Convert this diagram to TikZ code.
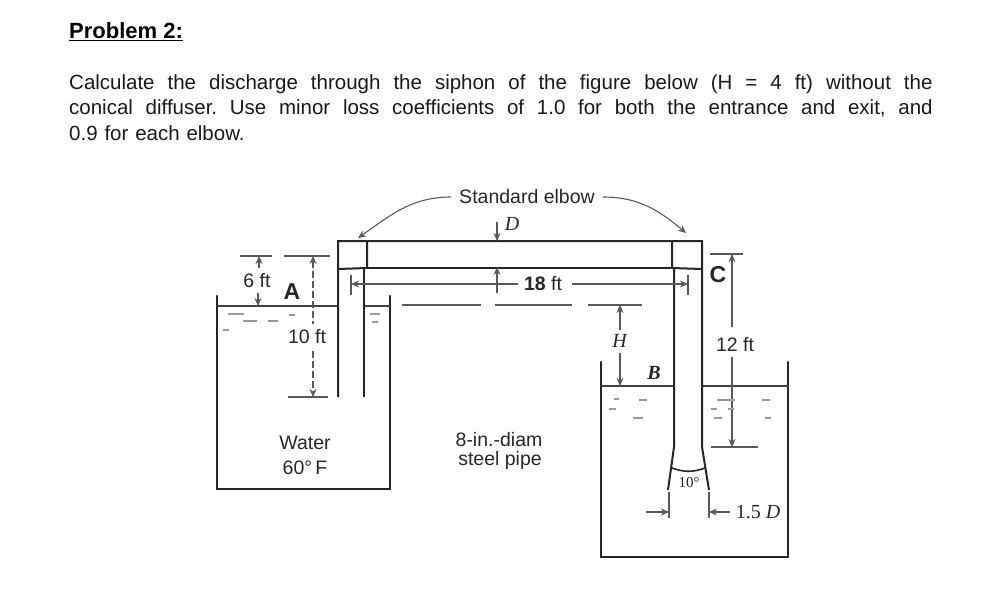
\documentclass[tikz,border=0pt]{standalone}
\usepackage{fontspec}
\setmainfont{Liberation Sans}
\newfontfamily\bookfont{Liberation Serif}
\usetikzlibrary{arrows.meta}
\pgfdeclarelayer{edgelayer}
\pgfdeclarelayer{nodelayer}
\pgfsetlayers{edgelayer,nodelayer,main}
\tikzstyle{none} = []
\tikzstyle{wall} = [line width=2.3pt, line cap=round, black!85]
\tikzstyle{pipe} = [line width=2pt, black!85]
\tikzstyle{level} = [line width=1.5pt, black!75]
\tikzstyle{dim} = [line width=1.1pt, black!65, >={Stealth[length=8pt, width=7pt]}]
\tikzstyle{dimbroken} = [dim, dash pattern=on 7pt off 3pt]
\tikzstyle{ripple} = [fill=black!40, inner sep=0pt, minimum height=1.2pt]
\tikzstyle{label} = [font=\fontsize{19.5}{22}\selectfont, black!85, inner sep=0pt]
\tikzstyle{serif} = [font=\bookfont\fontsize{20}{22}\selectfont, black!85, inner sep=0pt]
\tikzstyle{heavy} = [font=\fontsize{23}{25}\selectfont\bfseries, black!85, inner sep=0pt]

\begin{document}
\begin{tikzpicture}[x=1pt, y=-1pt]
	\coordinate (corner0) at (0, 0);
	\coordinate (corner1) at (999, 602);
	\useasboundingbox (corner0) rectangle (corner1);
	\begin{pgfonlayer}{nodelayer}
		\node [style=none, anchor=west, inner sep=0pt, font=\fontsize{22}{26}\selectfont\bfseries] (100) at (69, 32) {\underline{Problem 2:}};
		\node [style=none, anchor=north west, inner sep=0pt, text width=900pt, align=left, font=\fontsize{20.5}{25.6}\selectfont, black!90] (101) at (69, 74) {{\spaceskip=13pt\xspaceskip=13pt Calculate the discharge through the siphon of the figure below (H = 4 ft) without the}\\{\spaceskip=12.73pt\xspaceskip=12.73pt conical diffuser. Use minor loss coefficients of 1.0 for both the entrance and exit, and}\\0.9 for each elbow.};
		% tanks
		\node [style=none] (0) at (217, 296) {};
		\node [style=none] (1) at (217, 489) {};
		\node [style=none] (2) at (390, 489) {};
		\node [style=none] (3) at (390, 296) {};
		\node [style=none] (4) at (601, 362) {};
		\node [style=none] (5) at (601, 557) {};
		\node [style=none] (6) at (788, 557) {};
		\node [style=none] (7) at (788, 362) {};
		% water levels
		\node [style=none] (8) at (217, 306) {};
		\node [style=none] (9) at (338, 306) {};
		\node [style=none] (10) at (364, 306) {};
		\node [style=none] (11) at (390, 306) {};
		\node [style=none] (12) at (601, 386) {};
		\node [style=none] (13) at (674, 386) {};
		\node [style=none] (14) at (702, 386) {};
		\node [style=none] (15) at (788, 386) {};
		% siphon
		\node [style=none] (16) at (338, 397) {};
		\node [style=none] (17) at (338, 241) {};
		\node [style=none] (18) at (702, 241) {};
		\node [style=none] (19) at (702, 447) {};
		\node [style=none] (20) at (709, 490) {};
		\node [style=none] (21) at (364, 397) {};
		\node [style=none] (22) at (364, 268) {};
		\node [style=none] (23) at (674, 268) {};
		\node [style=none] (24) at (674, 447) {};
		\node [style=none] (25) at (668, 490) {};
		\node [style=none] (26) at (338, 269) {};
		\node [style=none] (27) at (367, 241) {};
		\node [style=none] (28) at (367, 268) {};
		\node [style=none] (29) at (672, 241) {};
		\node [style=none] (30) at (672, 268) {};
		\node [style=none] (31) at (702, 269) {};
		\node [style=none] (32) at (672, 468) {};
		\node [style=none] (33) at (705, 468) {};
		% 6 ft and 10 ft
		\node [style=none] (34) at (240, 256) {};
		\node [style=none] (35) at (272, 256) {};
		\node [style=none] (36) at (284, 256) {};
		\node [style=none] (37) at (330, 256) {};
		\node [style=none] (38) at (259, 268) {};
		\node [style=none] (39) at (259, 256) {};
		\node [style=none] (40) at (258, 293) {};
		\node [style=none] (41) at (258, 306) {};
		\node [style=none] (42) at (313, 256) {};
		\node [style=none] (43) at (313, 324) {};
		\node [style=none] (44) at (313, 351) {};
		\node [style=none] (45) at (313, 397) {};
		\node [style=none] (46) at (288, 397) {};
		\node [style=none] (47) at (328, 397) {};
		% 18 ft
		\node [style=none] (48) at (351, 275) {};
		\node [style=none] (49) at (351, 295) {};
		\node [style=none] (50) at (518, 284) {};
		\node [style=none] (51) at (351, 284) {};
		\node [style=none] (52) at (572, 284) {};
		\node [style=none] (53) at (688, 284) {};
		\node [style=none] (54) at (688, 275) {};
		\node [style=none] (55) at (688, 295) {};
		% D
		\node [style=none] (56) at (497, 222) {};
		\node [style=none] (57) at (497, 241) {};
		\node [style=none] (58) at (497, 293) {};
		\node [style=none] (59) at (497, 267) {};
		% H
		\node [style=none] (60) at (402, 305) {};
		\node [style=none] (61) at (481, 305) {};
		\node [style=none] (62) at (495, 305) {};
		\node [style=none] (63) at (572, 305) {};
		\node [style=none] (64) at (588, 305) {};
		\node [style=none] (65) at (642, 305) {};
		\node [style=none] (66) at (620, 330) {};
		\node [style=none] (67) at (620, 305) {};
		\node [style=none] (68) at (620, 353) {};
		\node [style=none] (69) at (620, 386) {};
		% 12 ft
		\node [style=none] (70) at (710, 254) {};
		\node [style=none] (71) at (743, 254) {};
		\node [style=none] (72) at (732, 327) {};
		\node [style=none] (73) at (732, 254) {};
		\node [style=none] (74) at (732, 357) {};
		\node [style=none] (75) at (732, 447) {};
		\node [style=none] (76) at (711, 447) {};
		\node [style=none] (77) at (758, 447) {};
		% 1.5 D
		\node [style=none] (78) at (669, 492) {};
		\node [style=none] (79) at (669, 518) {};
		\node [style=none] (80) at (709, 492) {};
		\node [style=none] (81) at (709, 518) {};
		\node [style=none] (82) at (646, 512) {};
		\node [style=none] (83) at (669, 512) {};
		\node [style=none] (84) at (730, 512) {};
		\node [style=none] (85) at (709, 512) {};
		% elbow arrows
		\node [style=none] (86) at (451, 197) {};
		\node [style=none] (87) at (358, 238) {};
		\node [style=none] (88) at (603, 197) {};
		\node [style=none] (89) at (686, 233) {};
		% labels
		\node [style=label] (102) at (527, 197) {Standard elbow};
		\node [style=serif] (103) at (512, 224) {\textit{D}};
		\node [style=label] (104) at (257, 281) {6 ft};
		\node [style=heavy] (105) at (292, 292) {A};
		\node [style=label] (106) at (307, 337) {10 ft};
		\node [style=label] (107) at (543, 284) {\textbf{18} ft};
		\node [style=serif] (108) at (620, 341) {\textit{H}};
		\node [style=serif] (109) at (654, 373) {\textbf{\textit{B}}};
		\node [style=heavy] (110) at (718, 275) {C};
		\node [style=label] (111) at (735, 345) {12 ft};
		\node [style=label] (112) at (305, 443) {Water};
		\node [style=label] (113) at (305, 468) {60\textdegree\,F};
		\node [style=label] (114) at (499, 440) {8-in.-diam};
		\node [style=label] (115) at (500, 460) {steel pipe};
		\node [style=serif, font=\bookfont\fontsize{15}{17}\selectfont] (116) at (689, 483) {10\textdegree};
		\node [style=serif] (117) at (758, 512) {1.5 \textit{D}};
		% water marks
		\node [style=ripple, minimum width=16pt] (118) at (236, 314) {};
		\node [style=ripple, minimum width=14pt] (119) at (250, 321) {};
		\node [style=ripple, minimum width=6pt] (120) at (226, 330) {};
		\node [style=ripple, minimum width=10pt] (121) at (273, 321) {};
		\node [style=ripple, minimum width=6pt] (122) at (292, 315) {};
		\node [style=ripple, minimum width=10pt] (123) at (375, 314) {};
		\node [style=ripple, minimum width=6pt] (124) at (375, 322) {};
		\node [style=ripple, minimum width=5pt] (125) at (616, 399) {};
		\node [style=ripple, minimum width=8pt] (126) at (643, 400) {};
		\node [style=ripple, minimum width=7pt] (127) at (612, 409) {};
		\node [style=ripple, minimum width=10pt] (128) at (638, 418) {};
		\node [style=ripple, minimum width=18pt] (129) at (726, 400) {};
		\node [style=ripple, minimum width=8pt] (130) at (766, 400) {};
		\node [style=ripple, minimum width=6pt] (131) at (714, 409) {};
		\node [style=ripple, minimum width=6pt] (132) at (731, 409) {};
		\node [style=ripple, minimum width=8pt] (133) at (718, 418) {};
		\node [style=ripple, minimum width=6pt] (134) at (768, 418) {};
	\end{pgfonlayer}
	\begin{pgfonlayer}{edgelayer}
		\draw [style=wall] (0.center) to (1.center) to (2.center) to (3.center);
		\draw [style=wall] (4.center) to (5.center) to (6.center) to (7.center);
		\draw [style=level] (8.center) to (9.center);
		\draw [style=level] (10.center) to (11.center);
		\draw [style=level] (12.center) to (13.center);
		\draw [style=level] (14.center) to (15.center);
		\draw [style=pipe] (16.center) to (17.center) to (18.center) to (19.center) to (20.center);
		\draw [style=pipe] (21.center) to (22.center);
		\draw [style=pipe] (23.center) to (24.center) to (25.center);
		\draw [style=pipe] (26.center) to (28.center) to (27.center);
		\draw [style=pipe] (28.center) to (30.center);
		\draw [style=pipe] (29.center) to (30.center) to (31.center);
		\draw [style=pipe, line width=1.6pt, in=200, out=-20] (32.center) to (33.center);
		\draw [style=dim] (34.center) to (35.center);
		\draw [style=dim] (36.center) to (37.center);
		\draw [style=dim, ->] (38.center) to (39.center);
		\draw [style=dim, ->] (40.center) to (41.center);
		\draw [style=dimbroken, <-] (42.center) to (43.center);
		\draw [style=dimbroken, ->] (44.center) to (45.center);
		\draw [style=dim] (46.center) to (47.center);
		\draw [style=dim] (48.center) to (49.center);
		\draw [style=dim, ->] (50.center) to (51.center);
		\draw [style=dim, ->] (52.center) to (53.center);
		\draw [style=dim] (54.center) to (55.center);
		\draw [style=dim, ->] (56.center) to (57.center);
		\draw [style=dim, ->] (58.center) to (59.center);
		\draw [style=dim] (60.center) to (61.center);
		\draw [style=dim] (62.center) to (63.center);
		\draw [style=dim] (64.center) to (65.center);
		\draw [style=dim, ->] (66.center) to (67.center);
		\draw [style=dim, ->] (68.center) to (69.center);
		\draw [style=dim] (70.center) to (71.center);
		\draw [style=dim, ->] (72.center) to (73.center);
		\draw [style=dim, ->] (74.center) to (75.center);
		\draw [style=dim] (76.center) to (77.center);
		\draw [style=dim] (78.center) to (79.center);
		\draw [style=dim] (80.center) to (81.center);
		\draw [style=dim, ->] (82.center) to (83.center);
		\draw [style=dim, ->] (84.center) to (85.center);
		\draw [style=dim, ->, in=35, out=180] (86.center) to (87.center);
		\draw [style=dim, ->, in=140, out=0] (88.center) to (89.center);
	\end{pgfonlayer}
\end{tikzpicture}
\end{document}
